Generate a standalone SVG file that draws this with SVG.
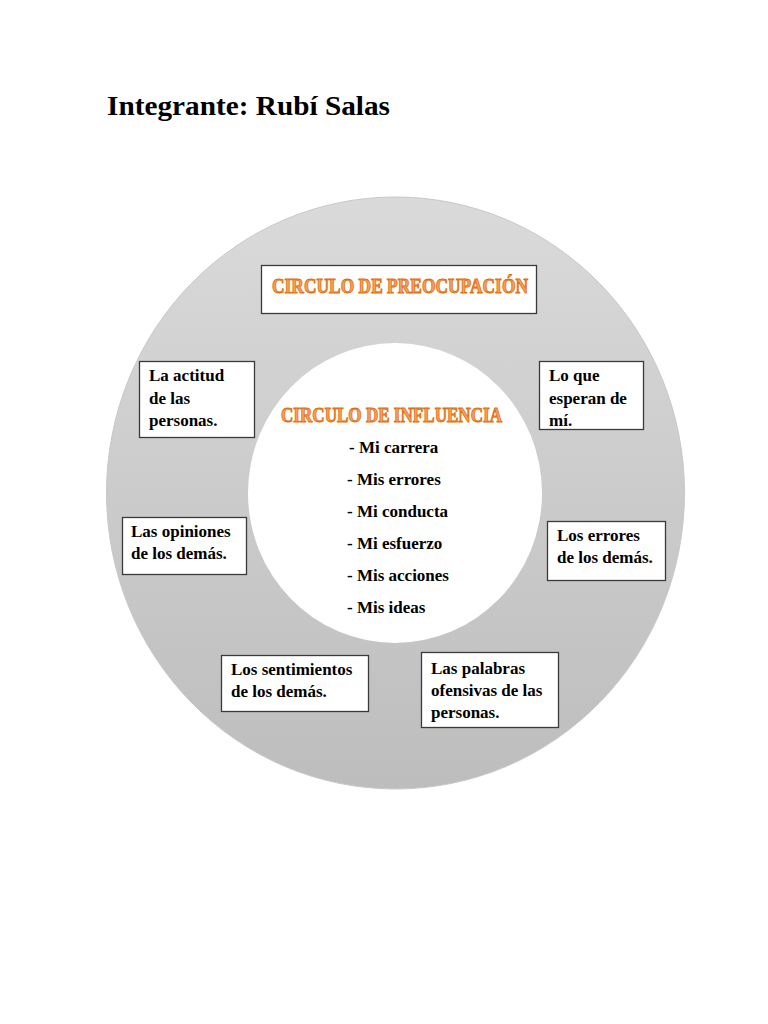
<svg xmlns="http://www.w3.org/2000/svg" width="768" height="1024" viewBox="0 0 768 1024">
<style>
.t{font-family:"Liberation Serif","Times New Roman",serif;font-weight:bold;font-size:17px;fill:#000}
.box{fill:#fff;stroke:#3a3a3a;stroke-width:1.3}
.h{font-family:"Liberation Serif","Times New Roman",serif;font-weight:bold;font-size:20px;fill:#f7a25e;stroke:#e36c0a;stroke-width:0.9}
</style>
<defs>
<linearGradient id="g" x1="0" y1="0" x2="0" y2="1">
<stop offset="0" stop-color="#dadada"/>
<stop offset="1" stop-color="#bdbdbd"/>
</linearGradient>
</defs>
<rect width="768" height="1024" fill="#fff"/>
<text x="107" y="115" font-family="Liberation Serif, serif" font-weight="bold" font-size="27" fill="#000" textLength="283" lengthAdjust="spacingAndGlyphs">Integrante: Rubí Salas</text>
<g id="outer"><ellipse cx="395.5" cy="493" rx="289" ry="296" fill="url(#g)" stroke="#c8c8c8" stroke-width="1"/></g>
<g id="inner">
<ellipse cx="395" cy="493" rx="147" ry="150" fill="#fff"/>
<text class="h" x="281" y="422" textLength="221" lengthAdjust="spacingAndGlyphs">CIRCULO DE INFLUENCIA</text>
<text class="t" x="349" y="453">- Mi carrera</text>
<text class="t" x="347" y="485">- Mis errores</text>
<text class="t" x="347" y="517">- Mi conducta</text>
<text class="t" x="347" y="549">- Mi esfuerzo</text>
<text class="t" x="347" y="581">- Mis acciones</text>
<text class="t" x="347" y="613">- Mis ideas</text>
</g>
<g id="preocupacion">
<rect class="box" x="261.5" y="265.5" width="275" height="48"/>
<text class="h" x="272" y="293" textLength="256" lengthAdjust="spacingAndGlyphs">CIRCULO DE PREOCUPACIÓN</text>
</g>
<g id="actitud">
<rect class="box" x="139.5" y="361.5" width="115" height="76"/>
<text class="t" x="149" y="381">La actitud</text>
<text class="t" x="149" y="404">de las</text>
<text class="t" x="149" y="426">personas.</text>
</g>
<g id="esperan">
<rect class="box" x="539.5" y="361.5" width="104" height="68"/>
<text class="t" x="549" y="381">Lo que</text>
<text class="t" x="549" y="404">esperan de</text>
<text class="t" x="549" y="426">mí.</text>
</g>
<g id="opiniones">
<rect class="box" x="122.5" y="517.5" width="124" height="57"/>
<text class="t" x="131" y="537">Las opiniones</text>
<text class="t" x="131" y="559">de los demás.</text>
</g>
<g id="errores">
<rect class="box" x="547.5" y="521.5" width="118" height="59"/>
<text class="t" x="557" y="541">Los errores</text>
<text class="t" x="557" y="563">de los demás.</text>
</g>
<g id="sentimientos">
<rect class="box" x="221.5" y="655.5" width="147" height="56"/>
<text class="t" x="231" y="675">Los sentimientos</text>
<text class="t" x="231" y="697">de los demás.</text>
</g>
<g id="palabras">
<rect class="box" x="421.5" y="652.5" width="137" height="75"/>
<text class="t" x="431" y="674">Las palabras</text>
<text class="t" x="431" y="696">ofensivas de las</text>
<text class="t" x="431" y="718">personas.</text>
</g>
<g id="connectors"/>
</svg>
